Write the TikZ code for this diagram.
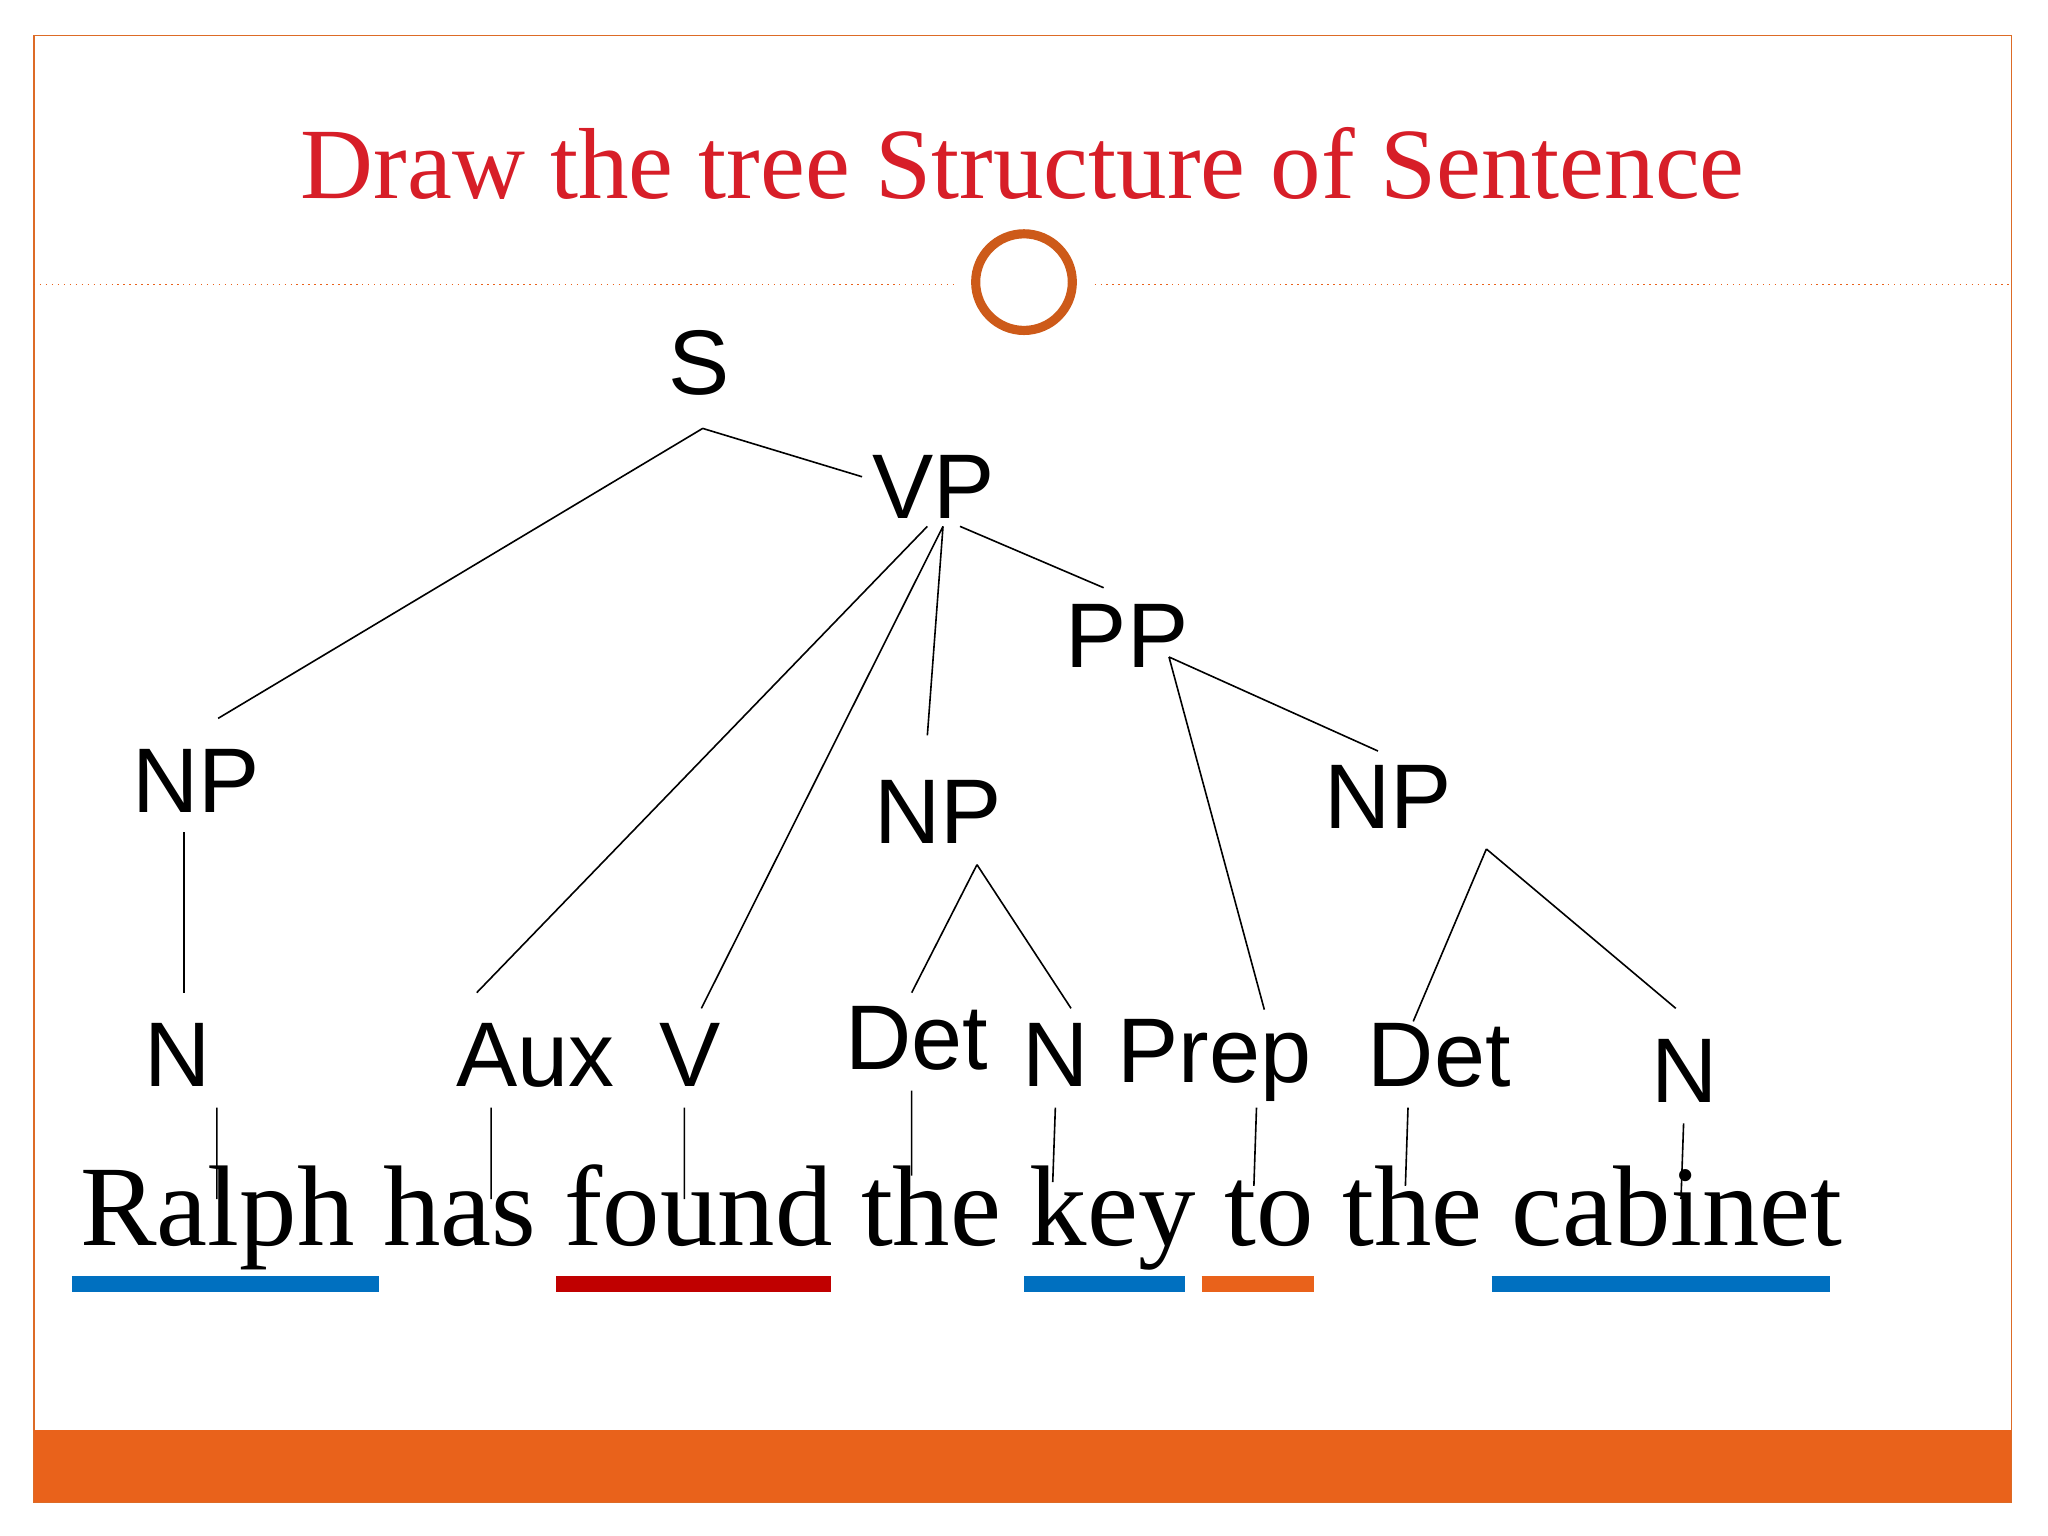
\documentclass[tikz,border=0pt]{standalone}
\usepackage{fontspec}
\setmainfont{Liberation Serif}
\newfontfamily\hv{Liberation Sans}
\definecolor{ttl}{RGB}{215,30,40}
\definecolor{org}{RGB}{233,98,27}
\definecolor{circ}{RGB}{205,90,25}
\definecolor{ublue}{RGB}{0,112,192}
\definecolor{ured}{RGB}{192,0,0}
\begin{document}
\begin{tikzpicture}[x=0.02cm,y=-0.02cm,
  lab/.style={font=\hv\fontsize{40}{40}\selectfont,inner sep=0},
  br/.style={line width=0.7pt},
  ul/.style={line width=0.24cm}]
\useasboundingbox (0,0) rectangle (1568,1176);
\fill[white] (0,0) rectangle (1568,1176);
\draw[org!70!brown,line width=0.6pt] (26,27) rectangle (1540,1150);
\fill[org] (26,1095) rectangle (1540,1150);
\draw[org,dotted,line width=0.6pt] (26,218) -- (730,218) (838,218) -- (1540,218);
\draw[circ,line width=0.14cm] (784,216) circle (37);
\node[text=ttl,font=\fontsize{44}{44}\selectfont] (title) at (783,125) {Draw the tree Structure of Sentence};
\node[lab] (S) at (535,278) {S};
\node[lab] (VP) at (715,373) {VP};
\node[lab] (NPa) at (150,598) {NP};
\node[lab] (NPb) at (718,622) {NP};
\node[lab] (PP) at (863,487) {PP};
\node[lab] (NPc) at (1063,610) {NP};
\node[lab] (Na) at (136,808) {N};
\node[lab] (Aux) at (410,808) {Aux};
\node[lab] (V) at (528,808) {V};
\node[lab] (Deta) at (702,795) {Det};
\node[lab] (Nb) at (808,808) {N};
\node[lab] (Prep) at (930,812) {Prep};
\node[lab] (Detb) at (1102,808) {Det};
\node[lab] (Nc) at (1290,820) {N};
\node[font=\fontsize{50}{50}\selectfont,inner sep=0] (sent) at (736,932) {Ralph has found the key to the cabinet};
\draw[br] (538,328) -- (167,550) (538,328) -- (660,365);
\draw[br] (710,403) -- (365,760) (722,403) -- (537,772) (722,403) -- (710,563) (735,403) -- (845,450);
\draw[br] (895,503) -- (968,773) (895,503) -- (1055,575);
\draw[br] (141,637) -- (141,760);
\draw[br] (748,662) -- (698,760) (748,662) -- (820,772);
\draw[br] (1138,650) -- (1082,782) (1138,650) -- (1283,772);
\draw[br] (166,848) -- (166,918) (376,848) -- (376,918) (524,848) -- (524,918)
  (698,835) -- (698,900) (808,848) -- (806,905) (962,848) -- (960,908)
  (1078,848) -- (1076,908) (1289,860) -- (1287,918);
\draw[ul,ublue] (55,983) -- (290,983);
\draw[ul,ured] (426,983) -- (636,983);
\draw[ul,ublue] (784,983) -- (907,983);
\draw[ul,org] (920,983) -- (1006,983);
\draw[ul,ublue] (1142,983) -- (1401,983);
\end{tikzpicture}
\end{document}
